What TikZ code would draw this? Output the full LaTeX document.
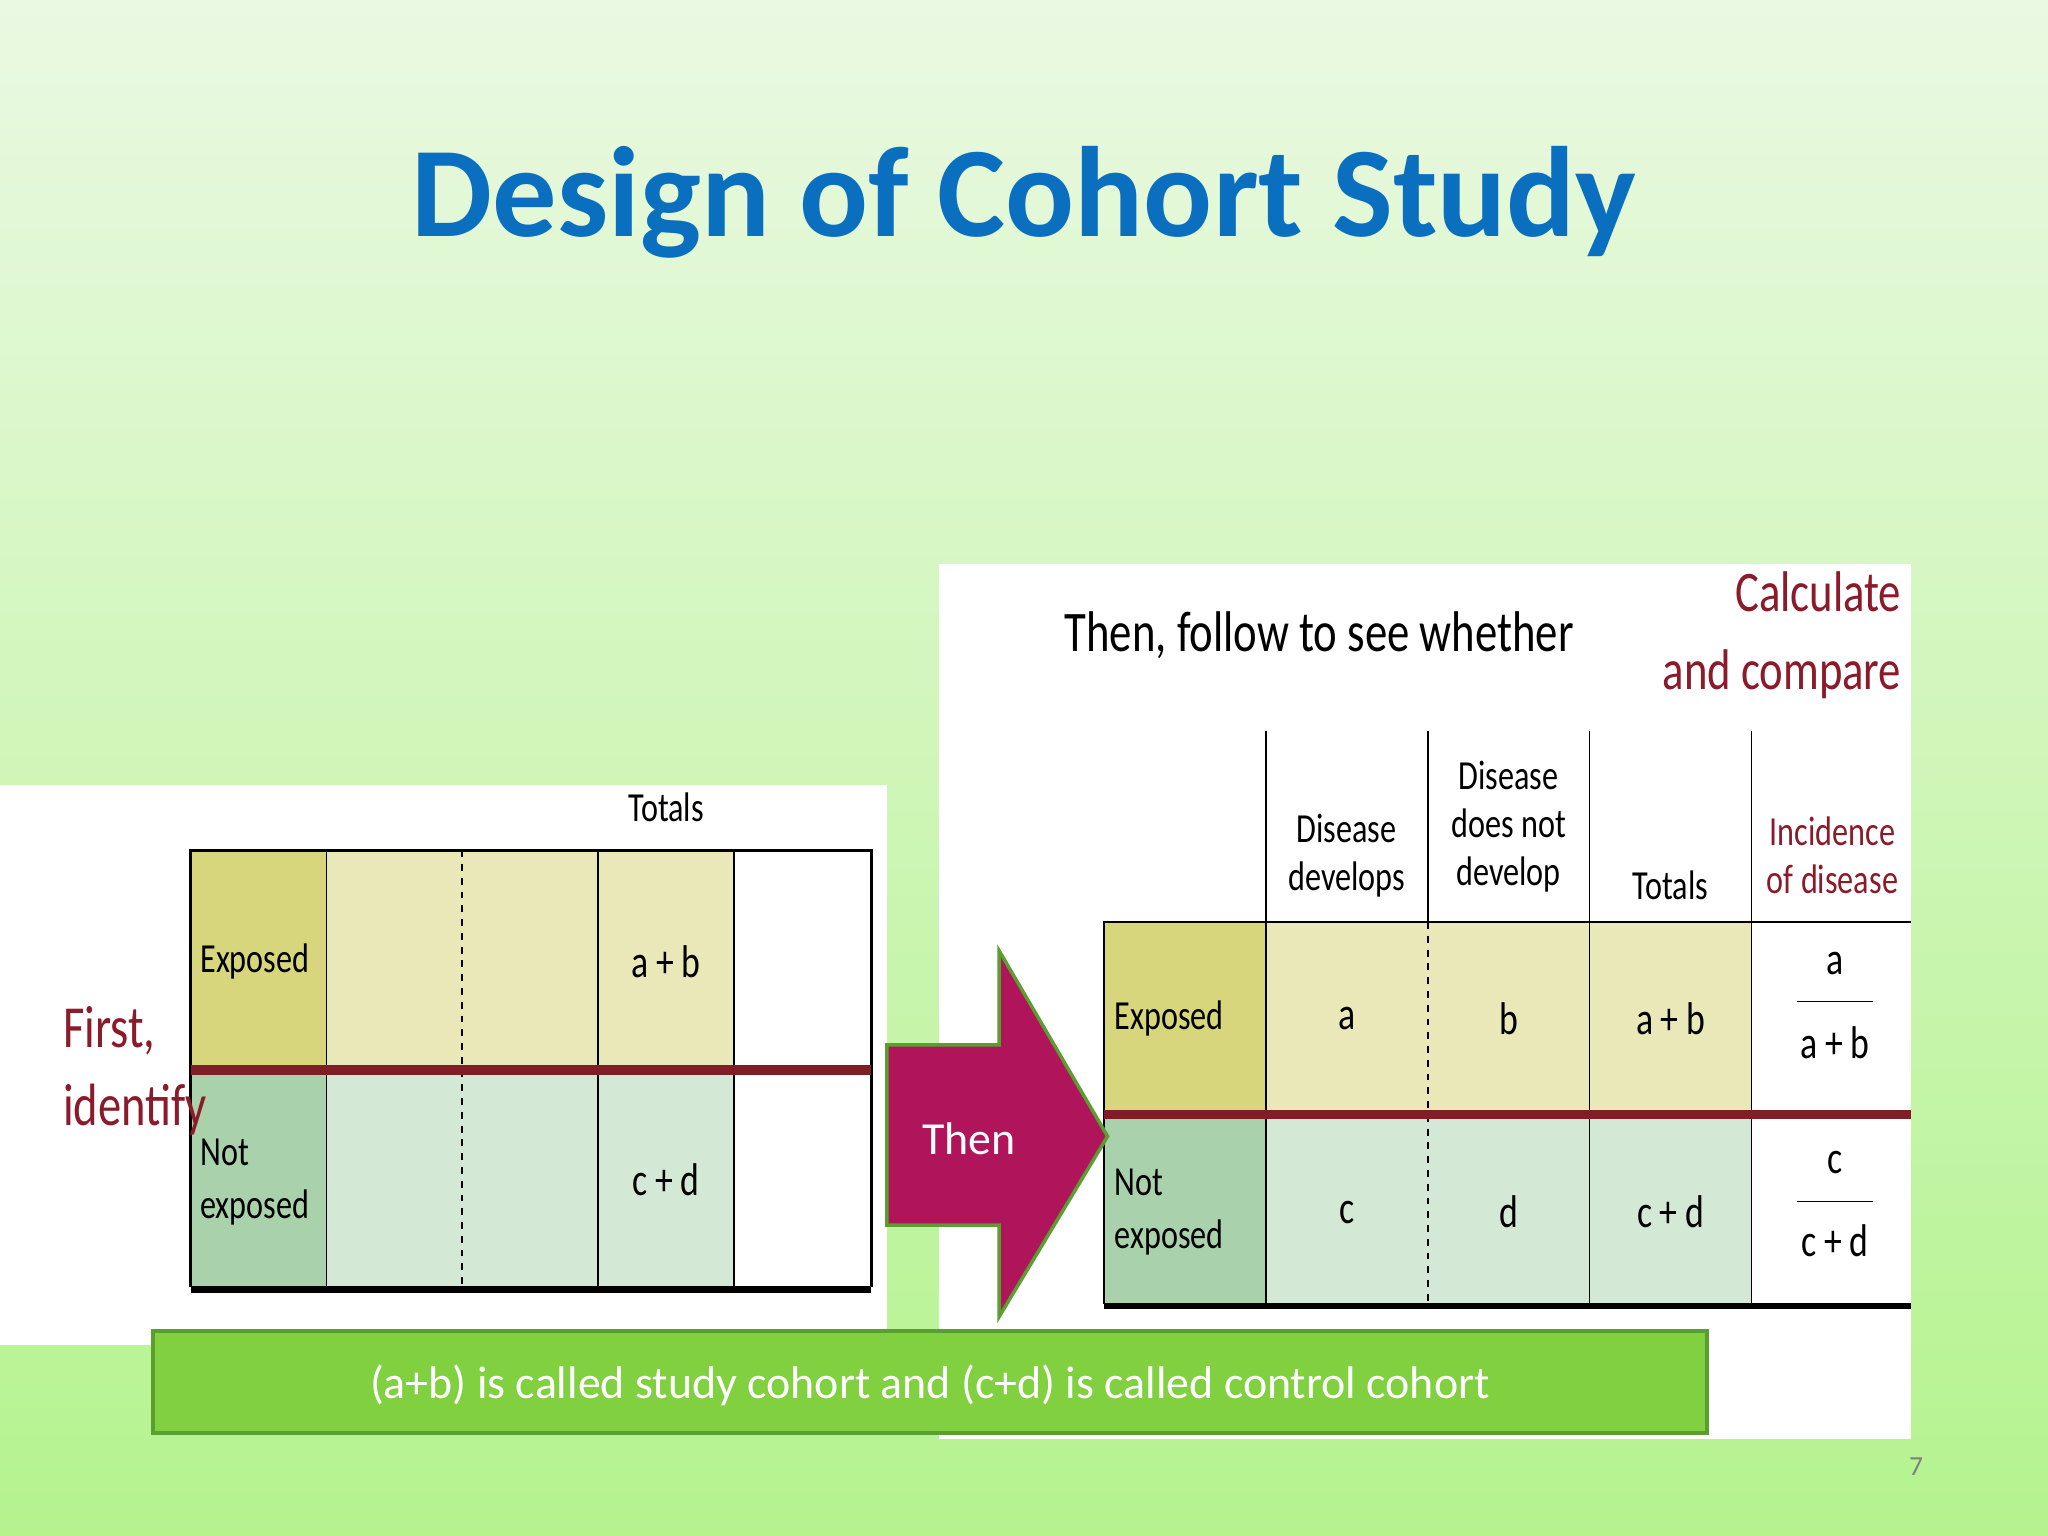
\documentclass[tikz,border=0pt]{standalone}
\usepackage{fontspec}
\setmainfont{Carlito}
\newfontfamily\cond[FakeStretch=0.78]{Carlito}
\definecolor{ttl}{HTML}{0B6FC0}
\definecolor{dred}{HTML}{8B1A2A}
\definecolor{ylA}{HTML}{D7D67C}
\definecolor{ylB}{HTML}{EAE8B8}
\definecolor{gnA}{HTML}{A9D1AB}
\definecolor{gnB}{HTML}{D3E8D5}
\definecolor{redl}{HTML}{7E1F26}
\definecolor{arr}{HTML}{B0145A}
\definecolor{barf}{HTML}{80D040}
\definecolor{barb}{HTML}{5A9E30}
\tikzset{x=0.02cm,y=-0.02cm,
 cell/.style={font=\cond\fontsize{20}{24}\selectfont,align=center,inner sep=0},
 hd/.style={font=\cond\fontsize{18}{21}\selectfont,align=center,inner sep=0},
 lft/.style={font=\cond\fontsize{18}{21}\selectfont,align=left,inner sep=0,anchor=west}}
\begin{document}
\begin{tikzpicture}
\useasboundingbox (0,0) rectangle (1568,1176);
\shade[top color={rgb,255:red,234;green,249;blue,226}, bottom color={rgb,255:red,180;green,243;blue,142}] (0,0) rectangle (1568,1176);
\node[font=\bfseries\fontsize{56}{60}\selectfont,text=ttl] (title) at (784,155) {Design of Cohort Study};
% left panel
\fill[white] (0,601) rectangle (679,1030);
\fill[ylA] (146,651) rectangle (250,815);
\fill[ylB] (250,651) rectangle (562,815);
\fill[gnA] (146,823) rectangle (250,985);
\fill[gnB] (250,823) rectangle (562,985);
\foreach \x in {250,458,562} \draw[line width=0.8pt] (\x,651) -- (\x,985);
\draw[dashed,line width=0.8pt] (354,651) -- (354,985);
\draw[line width=1.2pt] (146,985) -- (146,651) -- (667,651) -- (667,985);
\fill[redl] (146,815) rectangle (667,823);
\draw[line width=3pt] (146,987) -- (667,987);
\node[hd] (ltot) at (510,618) {Totals};
\node[cell] (lab) at (510,736) {a\,+\,b};
\node[cell] (lcd) at (510,903) {c\,+\,d};
\node[lft] (lexp) at (153,736) {Exposed};
\node[lft] (lnexp) at (153,905) {Not\\[2pt]exposed};
\node[font=\cond\fontsize{26}{34}\selectfont,text=dred,align=left,inner sep=0,anchor=west] (first) at (48,820) {First,\\identify};
% right panel
\fill[white] (719,432) rectangle (1463,1102);
\node[font=\cond\fontsize{25}{30}\selectfont] (then1) at (1010,486) {Then, follow to see whether};
\node[font=\cond\fontsize{25}{34}\selectfont,text=dred,align=right,anchor=east,inner sep=0] (calc) at (1456,486) {Calculate\\and compare};
\fill[ylA] (845,706) rectangle (969,850);
\fill[ylB] (969,706) rectangle (1341,850);
\fill[gnA] (845,857) rectangle (969,998);
\fill[gnB] (969,857) rectangle (1341,998);
\foreach \x in {969,1217,1341} \draw[line width=0.8pt] (\x,560) -- (\x,998);
\draw[line width=0.8pt] (1341,706) -- (1341,998);
\draw[line width=0.8pt] (1093,560) -- (1093,706);
\draw[dashed,line width=0.8pt] (1093,706) -- (1093,998);
\draw[line width=0.8pt] (845,998) -- (845,706) -- (1463,706);
\fill[redl] (845,850) rectangle (1463,857);
\draw[line width=2.5pt] (845,1000) -- (1463,1000);
\node[hd] (h1) at (1031,655) {Disease\\develops};
\node[hd] (h2) at (1155,633) {Disease\\does not\\develop};
\node[hd] (h3) at (1279,678) {Totals};
\node[hd,text=dred] (h4) at (1403,655) {Incidence\\of disease};
\node[lft] (rexp) at (853,780) {Exposed};
\node[lft] (rnexp) at (853,928) {Not\\[2pt]exposed};
\node[cell] (ca) at (1031,780) {a};
\node[cell] (cb) at (1155,780) {b};
\node[cell] (cab) at (1279,780) {a\,+\,b};
\node[cell] (cc) at (1031,928) {c};
\node[cell] (cd) at (1155,928) {d};
\node[cell] (ccd) at (1279,928) {c\,+\,d};
\node[cell] (fa) at (1405,738) {a};
\node[cell] (fab) at (1405,798) {a\,+\,b};
\draw[line width=0.6pt] (1376,767) -- (1434,767);
\node[cell] (fc) at (1405,890) {c};
\node[cell] (fcd) at (1405,950) {c\,+\,d};
\draw[line width=0.6pt] (1376,920) -- (1434,920);
% arrow
\draw[fill=arr,draw=barb,line width=1.5pt] (679,800) -- (765,800) -- (765,728) -- (848,870) -- (765,1008) -- (765,938) -- (679,938) -- cycle;
\node[text=white,font=\fontsize{20}{24}\selectfont] (thenl) at (742,872) {Then};
% bar
\draw[fill=barf,draw=barb,line width=2pt] (117,1019) rectangle (1307,1097);
\node[text=white,font=\fontsize{20}{24}\selectfont] (bart) at (712,1061) {(a+b) is called study cohort and (c+d) is called control cohort};
\node[text=gray,font=\fontsize{12}{14}\selectfont] (pg) at (1467,1123) {7};
\end{tikzpicture}
\end{document}
